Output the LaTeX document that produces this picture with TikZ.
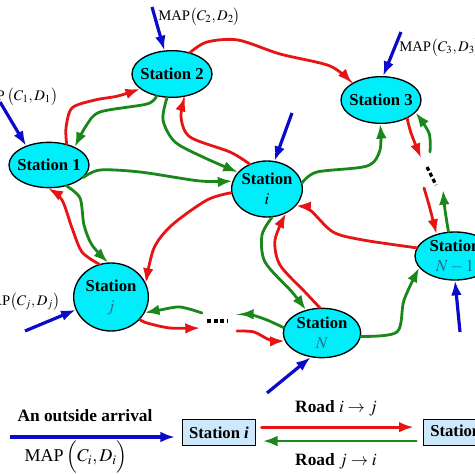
\documentclass[tikz,border=0pt]{standalone}
\usepackage{mathptmx}
\usepackage{fontspec}
\setmainfont{Liberation Serif}
\usetikzlibrary{shapes.geometric,arrows.meta}

\definecolor{roadred}{RGB}{230,20,20}
\definecolor{roadgreen}{RGB}{25,135,25}
\definecolor{arrblue}{RGB}{10,10,200}
\definecolor{stcyan}{RGB}{0,238,250}
\definecolor{varteal}{RGB}{40,105,135}
\definecolor{boxblue}{RGB}{205,232,250}

\tikzset{
  station/.style={ellipse, draw=black, line width=1pt, fill=stcyan, inner sep=0pt},
  sttext/.style={inner sep=0pt, align=center, font=\bfseries\fontsize{12.5}{15}\selectfont},
  road/.style={line width=2.1pt, line cap=round, -{Latex[length=11pt,width=8pt]}},
  redroad/.style={road, color=roadred},
  greenroad/.style={road, color=roadgreen},
  arrival/.style={line width=2.4pt, color=arrblue, -{Latex[length=11pt,width=8pt]}},
  maplabel/.style={inner sep=0pt, font=\fontsize{11}{12}\selectfont},
  legbox/.style={draw=black, line width=0.8pt, fill=boxblue, minimum width=55pt,
    minimum height=20pt, inner sep=0pt, font=\bfseries\fontsize{12.5}{14}\selectfont},
  legtext/.style={inner sep=0pt, font=\fontsize{13}{14}\selectfont},
  dots/.style={line width=2.4pt, dash pattern=on 3pt off 2pt, color=black}
}
\newcommand\stvar[1]{{\mdseries\color{varteal}#1}}

\begin{document}
\begin{tikzpicture}[x=0.75pt, y=-0.75pt]
	\fill[white] (0,0) rectangle (474,474);
	\useasboundingbox (0,0) rectangle (474,474);

	% stations
	\node[station, minimum width=60pt, minimum height=34pt] (st1) at (49,165) {};
	\node[station, minimum width=60pt, minimum height=35pt] (st2) at (172,74) {};
	\node[station, minimum width=60pt, minimum height=35pt] (st3) at (381,100) {};
	\node[station, minimum width=53pt, minimum height=42pt] (sti) at (267,189) {};
	\node[station, minimum width=56pt, minimum height=51pt] (stj) at (111,297) {};
	\node[station, minimum width=58pt, minimum height=37pt] (stN) at (322,333) {};
	\node[station, minimum width=60pt, minimum height=36pt] (stNa) at (455,256) {};
	\node[sttext] (st1t) at (st1) {Station 1};
	\node[sttext] (st2t) at (st2) {Station 2};
	\node[sttext] (st3t) at (st3) {Station 3};
	\node[sttext] (stit) at (sti) {Station\\{\mdseries$i$}};
	\node[sttext] (stjt) at (stj) {Station\\\stvar{$j$}};
	\node[sttext] (stNt) at (stN) {Station\\\stvar{$N$}};
	\node[sttext] (stNat) at (stNa) {Station\\\stvar{$N-1$}};

	% free ends next to the dots
	\coordinate (d3a) at (421,158);
	\coordinate (d3b) at (424,188);
	\coordinate (dNa) at (443,190);
	\coordinate (dNb) at (430,152);
	\coordinate (dotA) at (427,167);
	\coordinate (dotB) at (436,185);
	\coordinate (gN) at (239,314);
	\coordinate (rN) at (237,331);
	\coordinate (gj) at (202,313);
	\coordinate (rj) at (200,328);
	\coordinate (dotC) at (207,321);
	\coordinate (dotD) at (228,321);

	% roads
	\draw[redroad] plot[smooth] coordinates {(st1.50) (66,128) (72,108) (95,100) (118,96) (st2.205)};
	\draw[greenroad] plot[smooth] coordinates {(st2.235) (147,104) (100,112) (86,126) (st1.35)};
	\draw[redroad] plot[smooth] coordinates {(st2.50) (207,42) (238,40) (280,54) (330,66) (st3.150)};
	\draw[redroad] plot[smooth] coordinates {(sti.125) (230,152) (190,137) (181,117) (st2.300)};
	\draw[greenroad] plot[smooth] coordinates {(st2.258) (163,120) (175,142) (205,158) (sti.150)};
	\draw[greenroad] plot[smooth] coordinates {(st1.340) (100,170) (140,172) (200,181) (sti.167)};
	\draw[greenroad] plot[smooth] coordinates {(st1.310) (80,198) (84,225) (92,245) (stj.95)};
	\draw[redroad] plot[smooth] coordinates {(stj.110) (82,252) (72,228) (62,200) (st1.268)};
	\draw[redroad] plot[smooth] coordinates {(sti.186) (207,200) (172,225) (154,248) (stj.22)};
	\draw[greenroad] plot[smooth] coordinates {(sti.10) (317,172) (367,166) (380,150) (st3.268)};
	\draw[redroad] plot[smooth] coordinates {(st3.325) (411,133) (d3a)};
	\draw[redroad] plot[smooth] coordinates {(d3b) (429,205) (stNa.130)};
	\draw[greenroad] plot[smooth] coordinates {(stNa.105) (445,210) (dNa)};
	\draw[greenroad] plot[smooth] coordinates {(dNb) (429,133) (st3.340)};
	\draw[dots] (dotA) -- (dotB);
	\draw[redroad] plot[smooth] coordinates {(stNa.168) (363,240) (333,232) (310,210) (sti.330)};
	\draw[greenroad] plot[smooth] coordinates {(stN.355) (397,332) (404,300) (stNa.198)};
	\draw[greenroad] plot[smooth] coordinates {(sti.280) (262,235) (265,262) (292,292) (stN.125)};
	\draw[redroad] plot[smooth] coordinates {(stN.95) (305,292) (280,265) (275,240) (sti.308)};
	\draw[greenroad] plot[smooth] coordinates {(stN.172) (267,320) (252,315) (gN)};
	\draw[redroad] plot[smooth] coordinates {(rN) (254,332) (270,340) (stN.192)};
	\draw[greenroad] plot[smooth] coordinates {(gj) (180,307) (160,310) (stj.335)};
	\draw[redroad] plot[smooth] coordinates {(stj.322) (147,323) (170,328) (rj)};
	\draw[dots] (dotC) -- (dotD);

	% outside arrivals
	\coordinate (a1) at (0,102);
	\coordinate (a2) at (152,7);
	\coordinate (a3) at (401,32);
	\coordinate (ai) at (292,113);
	\coordinate (aj) at (25,331);
	\coordinate (aN) at (267,393);
	\coordinate (aNa) at (460,332);
	\draw[arrival] (a1) -- (st1.140);
	\draw[arrival] (a2) -- (st2.108);
	\draw[arrival] (a3) -- (st3.85);
	\draw[arrival] (ai) -- (sti.75);
	\draw[arrival] (aj) -- (stj.200);
	\draw[arrival] (aN) -- (stN.245);
	\draw[arrival] (aNa) -- (stNa.270);
	\node[maplabel, anchor=east] (map1) at (58,97) {MAP\,$\bigl(C_1,D_1\bigr)$};
	\node[maplabel, anchor=west] (map2) at (158,17) {MAP$\bigl(C_2,D_2\bigr)$};
	\node[maplabel, anchor=west] (map3) at (399,48) {MAP$\bigl(C_3,D_3\bigr)$};
	\node[maplabel, anchor=east] (mapj) at (60,302) {MAP$\bigl(C_j,D_j\bigr)$};

	% legend
	\node[legbox] (boxi) at (219,432.5) {Station \textit{i}};
	\node[legbox, anchor=west] (boxj) at (423,432.5) {Station \textit{j}};
	\coordinate (legsrc) at (10,437);
	\draw[arrival, shorten >=5pt] (legsrc) -- (legsrc -| boxi.west);
	\node[legtext, font=\bfseries\fontsize{13}{14}\selectfont] (arrtext) at (85,416) {An outside arrival};
	\node[legtext, font=\fontsize{13.5}{14}\selectfont] (arrmap) at (76,457) {MAP\,$\Bigl(C_i,D_i\Bigr)$};
	\draw[redroad, shorten <=4pt, shorten >=7pt] ([yshift=4pt]boxi.east) -- ([yshift=4pt]boxj.west);
	\draw[greenroad, shorten <=5pt, shorten >=5pt] ([yshift=-6.4pt]boxj.west) -- ([yshift=-6.4pt]boxi.east);
	\node[legtext] (roadij) at (336,408) {\textbf{Road} $i\to j$};
	\node[legtext] (roadji) at (336,461) {\textbf{Road} $j\to i$};
\end{tikzpicture}
\end{document}
